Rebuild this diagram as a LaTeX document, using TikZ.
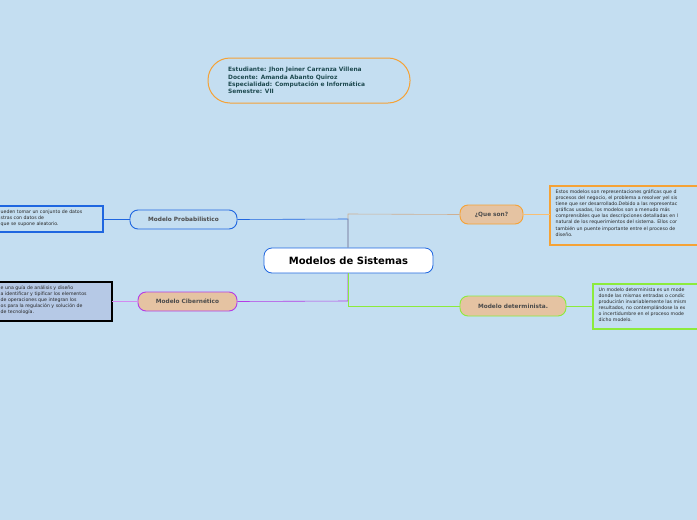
\documentclass[tikz,border=0pt]{standalone}
\usepackage{fontspec}
\setmainfont{DejaVu Sans}
\begin{document}
\begin{tikzpicture}[x=1pt,y=-1pt,
  topic/.style={rounded corners=8pt,line width=0.9pt,font=\bfseries\fontsize{5.8}{6.5}\selectfont,text=black!70,inner sep=0pt},
  tbox/.style={line width=1.4pt,anchor=north west,align=left,inner sep=0pt,font=\fontsize{4.7}{6.1}\selectfont,text=black!85},
  conn/.style={line width=0.6pt}]
\definecolor{bg}{HTML}{C4DEF1}
\definecolor{tan}{HTML}{E5C3A2}
\definecolor{org}{HTML}{F5A236}
\definecolor{grn}{HTML}{8CEB3C}
\definecolor{blu}{HTML}{1F66E0}
\definecolor{pur}{HTML}{B43CE6}
\definecolor{teal}{HTML}{1E4A50}
\definecolor{steel}{HTML}{B6C9E6}
\clip (0,0) rectangle (697,520);
\fill[bg] (0,0) rectangle (697,520);
% info
\node[draw=org,line width=1pt,rounded corners=22pt,minimum width=202pt,minimum height=45pt,inner sep=0pt] (info) at (309,80.5) {};
\node[anchor=west,align=left,font=\bfseries\fontsize{5.9}{7.3}\selectfont,text=teal,inner sep=0pt] (infot) at (228,80.5) {Estudiante: Jhon Jeiner Carranza Villena\\Docente: Amanda Abanto Quiroz\\Especialidad: Computación e Informática\\Semestre: VII};
% center
\node[draw=blu,fill=white,rounded corners=8pt,line width=0.8pt,minimum width=169pt,minimum height=25pt,font=\bfseries\fontsize{10}{11}\selectfont] (c) at (348.5,260.5) {Modelos de Sistemas};
\coordinate (cb) at (348,219);
\coordinate (ct) at (348,214);
\coordinate (cp) at (348,301);
\coordinate (cg) at (348,306);
% topics
\node[topic,draw=blu,fill=bg,minimum width=107pt,minimum height=19pt] (prob) at (183.5,219.5) {Modelo Probabilistico};
\node[topic,draw=pur,fill=tan,minimum width=99pt,minimum height=19pt] (cib) at (187.5,301.5) {Modelo Cibernético};
\node[topic,draw=org,fill=tan,minimum width=63pt,minimum height=19pt] (que) at (491.5,214.5) {¿Que son?};
\node[topic,draw=grn,fill=tan,minimum width=106pt,minimum height=20pt] (det) at (513,306) {Modelo determinista.};
% text boxes
\draw[blu,line width=1.4pt] (-5,206) rectangle (103,232);
\node[tbox] (probt) at (0,209.5) {ueden tomar un conjunto de datos\\stras con datos de\\ que se supone aleatorio.};
\draw[black,fill=steel,line width=1.4pt] (-5,282) rectangle (112,321);
\node[tbox] (cibt) at (0,285) {e una guía de análisis y diseño\\ a identificar y tipificar los elementos\\ de operaciones que integran los\\os para la regulación y solución de\\ de tecnología.};
\draw[org,line width=1.4pt] (550,186) rectangle (710,245);
\node[tbox] (quet) at (555,189) {Estos modelos son representaciones gráficas que d\\procesos del negocio, el problema a resolver yel sis\\tiene que ser desarrollado.Debido a las representac\\gráficas usadas, los modelos son a menudo más\\comprensibles que las descripciones detalladas en l\\natural de los requerimientos del sistema. Ellos cor\\también un puente importante entre el proceso de\\diseño.};
\draw[grn,line width=1.4pt] (593,284) rectangle (710,329);
\node[tbox] (dett) at (598,287) {Un modelo determinista es un mode\\donde las mismas entradas o condic\\producirán invariablemente las mism\\resultados, no contemplándose la ex\\o incertidumbre en el proceso mode\\dicho modelo.};
% connectors
\draw[conn,blu] (c.north -| cb) -- (cb) -- (prob.east);
\draw[conn,blu] (prob.west) -- (103,219.5);
\draw[conn,tan!90!black] (c.north -| ct) -- (ct) -- (que.west);
\draw[conn,pur] (c.south -| cp) -- (cp) -- (cib.east);
\draw[conn,pur!60] (cib.west) -- (112,301.5);
\draw[conn,grn] (c.south -| cg) -- (cg) -- (det.west);
\draw[conn,org!70] (que.east) -- (550,214.5);
\draw[conn,grn] (det.east) -- (593,306);
\end{tikzpicture}
\end{document}
